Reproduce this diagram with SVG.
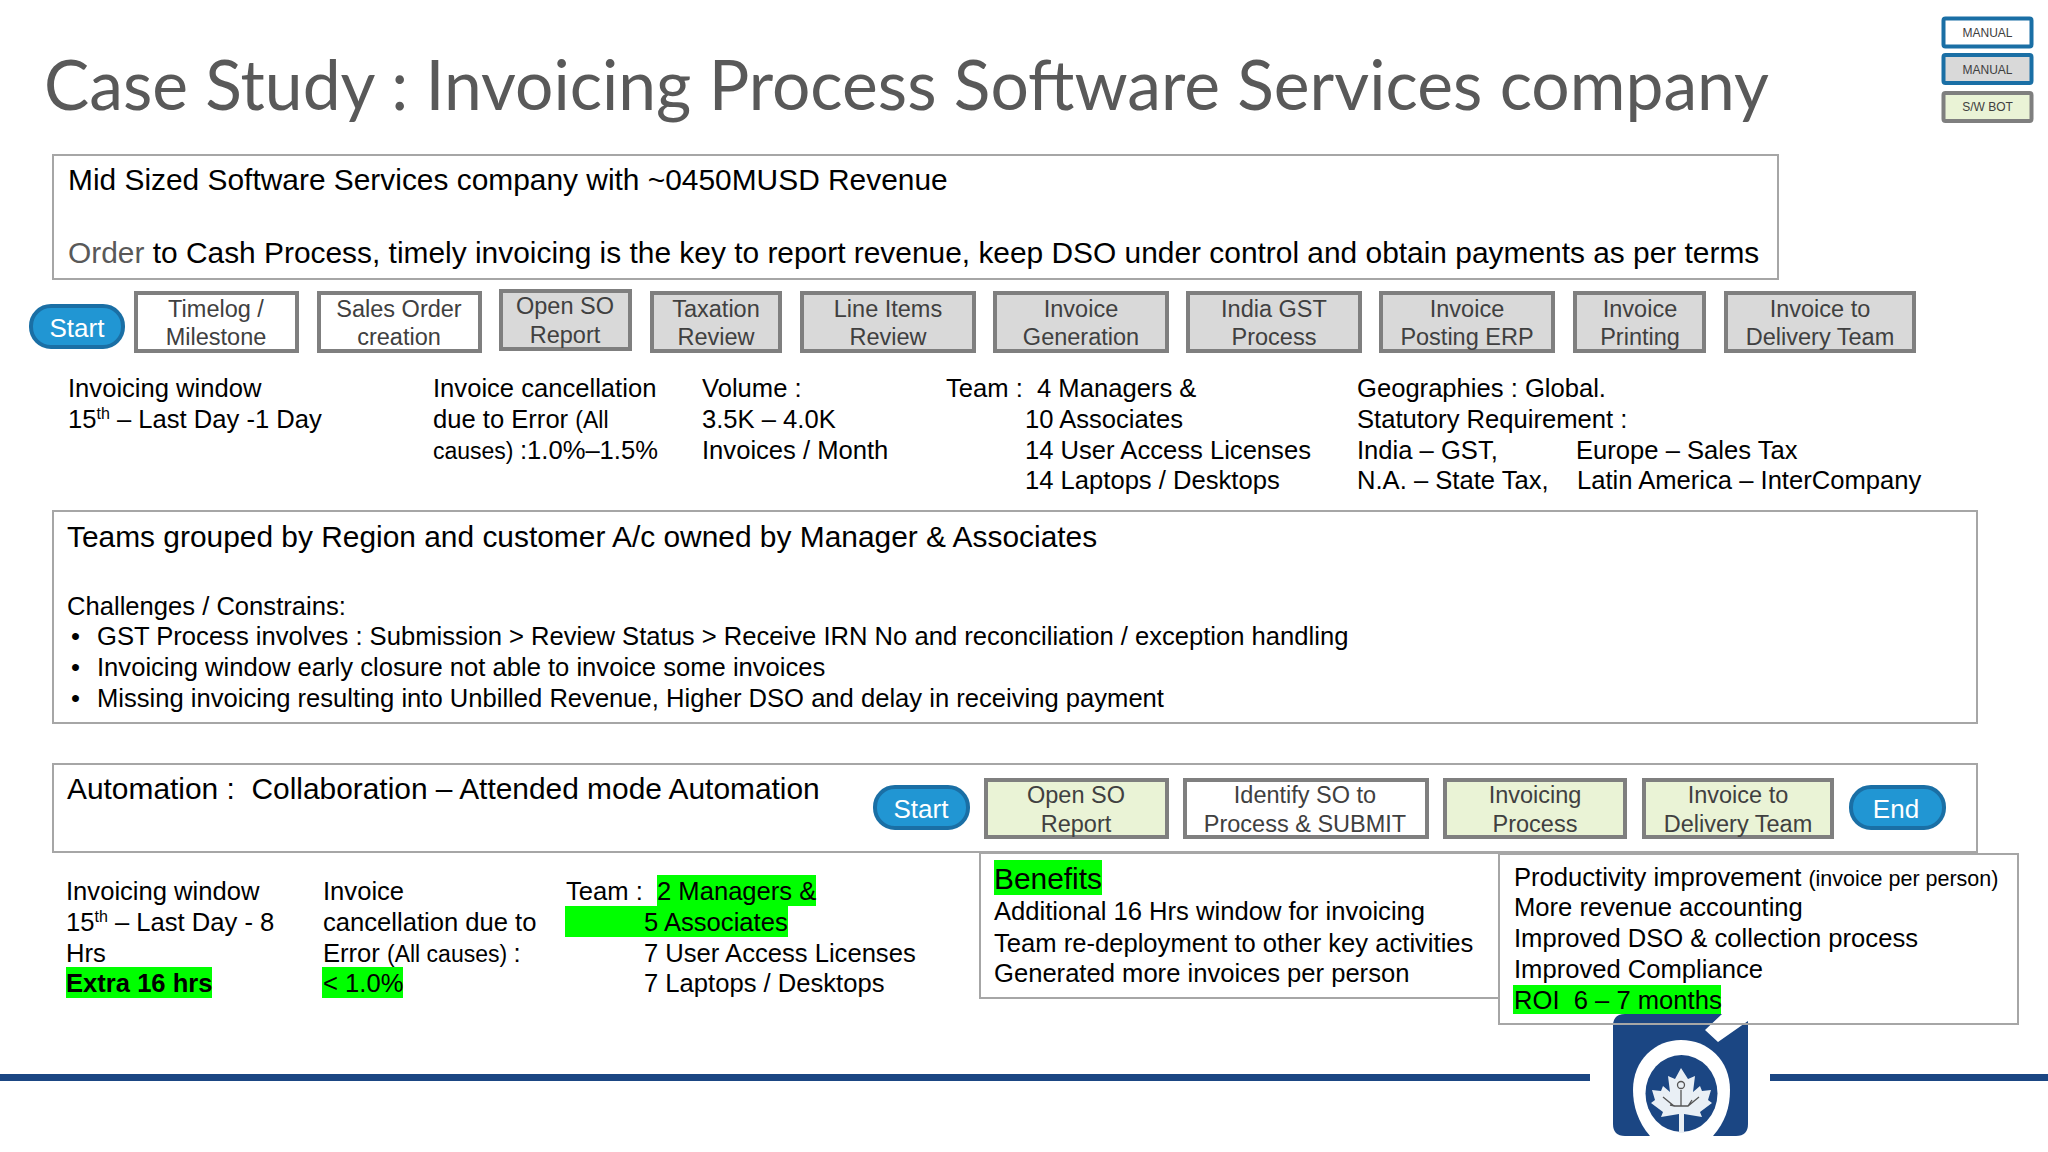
<svg xmlns="http://www.w3.org/2000/svg" width="2048" height="1152" viewBox="0 0 2048 1152">
<style>
text{font-family:"Liberation Sans",Arial,sans-serif;fill:#000;white-space:pre}
.t{font-size:25.6px}.h{font-size:29.9px}
.title{font-family:Lato,"Open Sans",sans-serif;font-size:70px;fill:#595959}
.frame{fill:#fff;stroke:#a6a6a6;stroke-width:2}
.lbl{font-size:23.5px;text-anchor:middle;fill:#404040}
.w{fill:#fff;stroke:#7f7f7f;stroke-width:4}
.g{fill:#d9d9d9;stroke:#7f7f7f;stroke-width:4}
.b{fill:#eaf3d6;stroke:#7f7f7f;stroke-width:4}
.pill{fill:#2196d3;stroke:#1a6fa5;stroke-width:4}
.pt{font-size:26px;text-anchor:middle;fill:#fff}
.hl{fill:#00ff00}
.lg{font-size:12px;text-anchor:middle;fill:#404040}
.navy{fill:#1b4683}
</style>
<rect width="2048" height="1152" fill="#fff"/>
<text class="title" x="44" y="110" textLength="1725" lengthAdjust="spacingAndGlyphs">Case Study : Invoicing Process Software Services company</text>
<g id="legend">
<g id="legend-manual"><rect x="1943.500" y="18.500" width="88" height="28" rx="2" fill="#fff" stroke="#1a6fa5" stroke-width="4"/><text class="lg" x="1987.500" y="37">MANUAL</text></g>
<g id="legend-manual-grey"><rect x="1943.500" y="55" width="88" height="28" rx="2" fill="#d9d9d9" stroke="#1a6fa5" stroke-width="4"/><text class="lg" x="1987.500" y="74">MANUAL</text></g>
<g id="legend-bot"><rect x="1943.500" y="93" width="88" height="28" rx="2" fill="#eaf3d6" stroke="#7f7f7f" stroke-width="4"/><text class="lg" x="1987.500" y="111">S/W BOT</text></g>
</g>
<g id="intro"><rect class="frame" x="53" y="155" width="1725" height="124"/>
<text class="h" x="68" y="190">Mid Sized Software Services company with ~0450MUSD Revenue</text>
<text class="h" x="68" y="263"><tspan fill="#595959">Order</tspan> to Cash Process, timely invoicing is the key to report revenue, keep DSO under control and obtain payments as per terms</text></g>
<g id="flow1">
<g id="s1"><rect class="pill" x="31" y="306" width="92" height="41" rx="20"/><text class="pt" x="77" y="337">Start</text></g>
<g id="n1"><rect class="w" x="136" y="293" width="161" height="58"/><text class="lbl" x="216" y="317">Timelog /</text><text class="lbl" x="216" y="345">Milestone</text></g>
<g id="n2"><rect class="w" x="319" y="293" width="161" height="58"/><text class="lbl" x="399" y="317">Sales Order</text><text class="lbl" x="399" y="345">creation</text></g>
<g id="n3"><rect class="g" x="501" y="291" width="129" height="58"/><text class="lbl" x="565" y="314">Open SO</text><text class="lbl" x="565" y="343">Report</text></g>
<g id="n4"><rect class="g" x="652" y="293" width="128" height="58"/><text class="lbl" x="716" y="317">Taxation</text><text class="lbl" x="716" y="345">Review</text></g>
<g id="n5"><rect class="g" x="802" y="293" width="172" height="58"/><text class="lbl" x="888" y="317">Line Items</text><text class="lbl" x="888" y="345">Review</text></g>
<g id="n6"><rect class="g" x="995" y="293" width="172" height="58"/><text class="lbl" x="1081" y="317">Invoice</text><text class="lbl" x="1081" y="345">Generation</text></g>
<g id="n7"><rect class="g" x="1188" y="293" width="172" height="58"/><text class="lbl" x="1274" y="317">India GST</text><text class="lbl" x="1274" y="345">Process</text></g>
<g id="n8"><rect class="g" x="1381" y="293" width="172" height="58"/><text class="lbl" x="1467" y="317">Invoice</text><text class="lbl" x="1467" y="345">Posting ERP</text></g>
<g id="n9"><rect class="g" x="1575" y="293" width="129" height="58"/><text class="lbl" x="1640" y="317">Invoice</text><text class="lbl" x="1640" y="345">Printing</text></g>
<g id="n10"><rect class="g" x="1726" y="293" width="188" height="58"/><text class="lbl" x="1820" y="317">Invoice to</text><text class="lbl" x="1820" y="345">Delivery Team</text></g>
</g>
<g id="facts1">
<text class="t" x="68" y="397">Invoicing window</text>
<text class="t" x="68" y="428">15<tspan font-size="16" dy="-9">th</tspan><tspan dy="9"> – Last Day -1 Day</tspan></text>
<text class="t" x="433" y="397">Invoice cancellation</text>
<text class="t" x="433" y="428">due to Error <tspan font-size="23">(All</tspan></text>
<text class="t" x="433" y="459"><tspan font-size="23">causes) </tspan>:1.0%–1.5%</text>
<text class="t" x="702" y="397">Volume :</text><text class="t" x="702" y="428">3.5K – 4.0K</text><text class="t" x="702" y="459">Invoices / Month</text>
<text class="t" x="946" y="397">Team :  4 Managers &amp;</text><text class="t" x="1025" y="428">10 Associates</text><text class="t" x="1025" y="459">14 User Access Licenses</text><text class="t" x="1025" y="489">14 Laptops / Desktops</text>
<text class="t" x="1357" y="397">Geographies : Global.</text><text class="t" x="1357" y="428">Statutory Requirement :</text>
<text class="t" x="1357" y="459">India – GST,</text><text class="t" x="1576" y="459">Europe – Sales Tax</text>
<text class="t" x="1357" y="489">N.A. – State Tax,</text><text class="t" x="1577" y="489">Latin America – InterCompany</text>
</g>
<g id="teams"><rect class="frame" x="53" y="511" width="1924" height="212"/>
<text class="h" x="67" y="547">Teams grouped by Region and customer A/c owned by Manager &amp; Associates</text>
<text class="t" x="67" y="615">Challenges / Constrains:</text>
<text class="t" x="71" y="645">•</text><text class="t" x="97" y="645">GST Process involves : Submission &gt; Review Status &gt; Receive IRN No and reconciliation / exception handling</text>
<text class="t" x="71" y="676">•</text><text class="t" x="97" y="676">Invoicing window early closure not able to invoice some invoices</text>
<text class="t" x="71" y="707">•</text><text class="t" x="97" y="707">Missing invoicing resulting into Unbilled Revenue, Higher DSO and delay in receiving payment</text>
</g>
<g id="automation"><rect class="frame" x="53" y="764" width="1924" height="88"/>
<text class="h" x="67" y="799">Automation :  Collaboration – Attended mode Automation</text></g>
<g id="flow2">
<g id="s2"><rect class="pill" x="875" y="787" width="93" height="41" rx="20"/><text class="pt" x="921" y="818">Start</text></g>
<g id="m1"><rect class="b" x="986" y="780" width="181" height="57"/><text class="lbl" x="1076" y="803">Open SO</text><text class="lbl" x="1076" y="832">Report</text></g>
<g id="m2"><rect class="w" x="1185" y="780" width="242" height="57"/><text class="lbl" x="1305" y="803">Identify SO to</text><text class="lbl" x="1305" y="832">Process &amp; SUBMIT</text></g>
<g id="m3"><rect class="b" x="1445" y="780" width="180" height="57"/><text class="lbl" x="1535" y="803">Invoicing</text><text class="lbl" x="1535" y="832">Process</text></g>
<g id="m4"><rect class="b" x="1644" y="780" width="188" height="57"/><text class="lbl" x="1738" y="803">Invoice to</text><text class="lbl" x="1738" y="832">Delivery Team</text></g>
<g id="e2"><rect class="pill" x="1851" y="787" width="93" height="41" rx="20"/><text class="pt" x="1896" y="818">End</text></g>
</g>
<g id="facts2">
<rect class="hl" x="66" y="967" width="146" height="31"/><rect class="hl" x="322" y="967" width="81" height="31"/><rect class="hl" x="657" y="875" width="159" height="31"/><rect class="hl" x="565" y="906" width="223" height="31"/>
<text class="t" x="66" y="900">Invoicing window</text>
<text class="t" x="66" y="931">15<tspan font-size="16" dy="-9">th</tspan><tspan dy="9"> – Last Day - 8</tspan></text>
<text class="t" x="66" y="962">Hrs</text>
<text class="t" x="66" y="992" font-weight="bold">Extra 16 hrs</text>
<text class="t" x="323" y="900">Invoice</text><text class="t" x="323" y="931">cancellation due to</text>
<text class="t" x="323" y="962">Error <tspan font-size="23">(All causes) </tspan>:</text><text class="t" x="323" y="992">&lt; 1.0%</text>
<text class="t" x="566" y="900">Team :</text><text class="t" x="657" y="900">2 Managers &amp;</text>
<text class="t" x="644" y="931">5 Associates</text><text class="t" x="644" y="962">7 User Access Licenses</text><text class="t" x="644" y="992">7 Laptops / Desktops</text>
</g>
<g id="logo">
<rect class="navy" x="0" y="1074" width="1590" height="7"/><rect class="navy" x="1770" y="1074" width="278" height="7"/>
<path class="navy" d="M1625 1014H1722L1705 1030L1718 1042L1748 1021V1124Q1748 1136 1736 1136H1625Q1613 1136 1613 1124V1026Q1613 1014 1625 1014Z"/>
<path fill="#fff" d="M1650 1136C1638 1122 1633 1106 1633 1090C1633 1060 1655 1040 1681 1040C1708 1040 1730 1060 1730 1090C1730 1108 1725 1122 1713 1136Z"/>
<ellipse class="navy" cx="1681.500" cy="1093.500" rx="36" ry="38.500"/>
<path fill="#e9eff5" d="M1681 1068L1688 1079L1695 1076L1693 1092L1700 1086L1702 1091L1711 1090L1708 1100L1712 1103L1700 1112L1702 1117L1684 1114V1133H1679V1114L1661 1117L1663 1112L1651 1103L1655 1100L1652 1090L1661 1091L1663 1086L1670 1092L1668 1076L1675 1079Z"/>
<path fill="none" stroke="#555" stroke-width="1.300" d="M1681 1090V1106M1663 1097L1674 1106H1688L1699 1097M1670 1105L1675 1106M1688 1106L1692 1100"/>
<circle cx="1681" cy="1085" r="3.500" fill="#e9eff5" stroke="#555" stroke-width="1.300"/>
</g>
<g id="benefits"><rect class="frame" x="980" y="853" width="519" height="145"/>
<rect class="hl" x="994" y="860" width="108" height="35"/>
<text x="994" y="889" font-size="29.900">Benefits</text>
<text class="t" x="994" y="920">Additional 16 Hrs window for invoicing</text>
<text class="t" x="994" y="952">Team re-deployment to other key activities</text>
<text class="t" x="994" y="982">Generated more invoices per person</text></g>
<g id="roi"><path d="M1499 854H2018V1024H1499Z" fill="none" stroke="#a6a6a6" stroke-width="2"/>
<rect class="hl" x="1513" y="985" width="208" height="29"/>
<text class="t" x="1514" y="886">Productivity improvement <tspan font-size="21.500">(invoice per person)</tspan></text>
<text class="t" x="1514" y="916">More revenue accounting</text>
<text class="t" x="1514" y="947">Improved DSO &amp; collection process</text>
<text class="t" x="1514" y="978">Improved Compliance</text>
<text class="t" x="1514" y="1009">ROI  6 – 7 months</text></g>
</svg>
